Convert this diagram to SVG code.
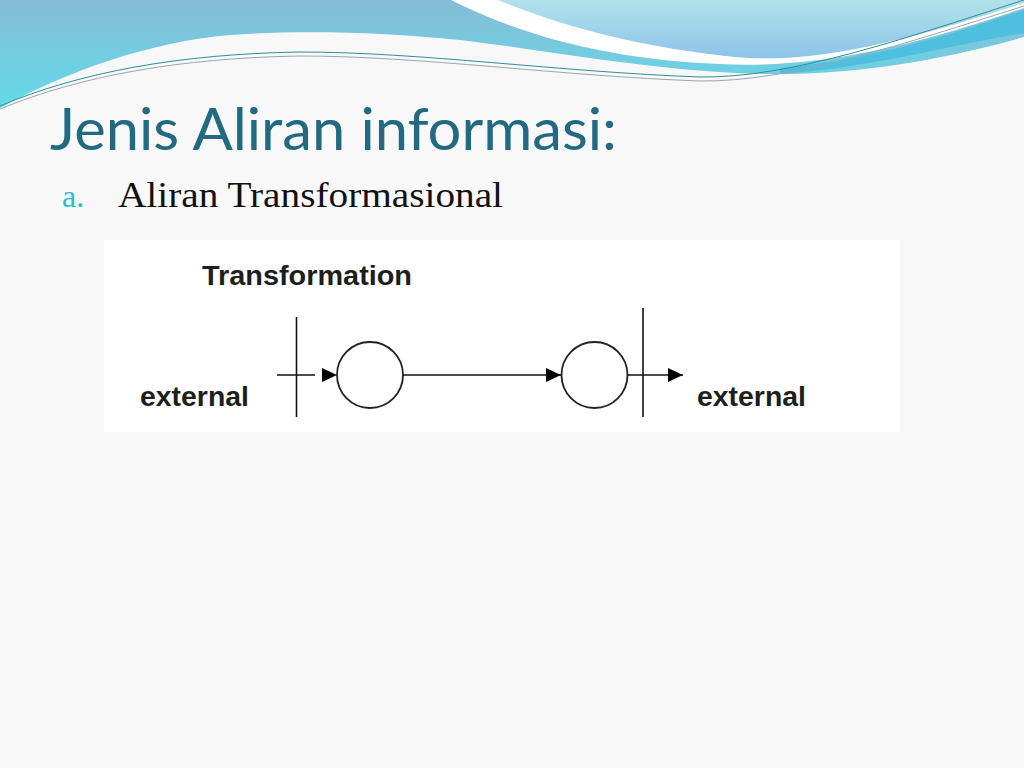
<svg xmlns="http://www.w3.org/2000/svg" width="1024" height="768" viewBox="0 0 1024 768">
  <defs>
    <linearGradient id="gBlue" x1="0" y1="0" x2="0" y2="1">
      <stop offset="0" stop-color="#86bcd6"/>
      <stop offset="1" stop-color="#62dbe9"/>
    </linearGradient>
    <linearGradient id="gLight" x1="0" y1="0" x2="0" y2="1">
      <stop offset="0" stop-color="#b2e3ea"/>
      <stop offset="1" stop-color="#8cc3e8"/>
    </linearGradient>
    <marker id="arr" viewBox="0 0 15 14" refX="15" refY="7" markerWidth="15" markerHeight="14" markerUnits="userSpaceOnUse" orient="auto">
      <path d="M0,0 L15,7 L0,14 Z" fill="#000"/>
    </marker>
    <style>
      .lbl { font-family: "Liberation Sans", Arial, sans-serif; font-weight: bold; font-size: 28px; fill: #1e1e1e; }
      .ln { stroke: #111; stroke-width: 1.6; fill: none; }
      .circ { stroke: #222; stroke-width: 1.8; fill: #fff; }
    </style>
  </defs>

  <!-- background -->
  <rect x="0" y="0" width="1024" height="768" fill="#f8f8f8"/>

  <!-- header waves -->
  <g id="header">
    <path d="M0,0 H1024 V37 C960,55 880,72 790,74 C680,76 560,52 460,40 C380,32 300,30 230,35 C150,42 70,70 0,108 Z" fill="url(#gBlue)"/>
    <path d="M1024,10 C950,35 870,60 780,68 L780,74 C870,68 950,45 1024,33 Z" fill="#4fbfdf"/>
    <path d="M451,0 C530,40 620,60 720,64 C800,68 890,55 1024,8 V0 Z" fill="#ffffff"/>
    <path d="M498,0 C565,28 645,48 735,57 C800,63 880,50 1024,3 V0 Z" fill="url(#gLight)"/>
    <path d="M0,106 C80,72 180,54 300,52 C420,52 560,72 700,77 C790,78 900,40 1024,0" fill="none" stroke="#2e8f9a" stroke-width="1"/>
    <path d="M0,109 C80,76 180,58 300,56 C420,56 560,76 700,81 C790,82 900,45 1024,6" fill="none" stroke="#9aa6ad" stroke-width="1"/>
  </g>

  <!-- title -->
  <text id="title" x="50" y="150" font-family="Lato, 'Open Sans', sans-serif" font-size="58" fill="#216a82" textLength="567" lengthAdjust="spacingAndGlyphs">Jenis Aliran informasi:</text>
  <g id="bullet">
    <text x="62" y="207" font-family="'Liberation Serif', serif" font-size="32" fill="#2cbcd0">a.</text>
    <text x="118" y="207" font-family="'Liberation Serif', serif" font-size="36" fill="#111" textLength="385" lengthAdjust="spacingAndGlyphs">Aliran Transformasional</text>
  </g>

  <!-- diagram panel -->
  <rect id="panel" x="104" y="240" width="796" height="192" fill="#ffffff"/>

  <text id="lbl-transformation" class="lbl" x="202" y="285" textLength="210" lengthAdjust="spacingAndGlyphs">Transformation</text>
  <text id="lbl-external-left" class="lbl" x="140" y="406" textLength="109" lengthAdjust="spacingAndGlyphs">external</text>
  <text id="lbl-external-right" class="lbl" x="697" y="406" textLength="109" lengthAdjust="spacingAndGlyphs">external</text>

  <g id="boundary-left">
    <line class="ln" x1="296.5" y1="317" x2="296.5" y2="417"/>
  </g>
  <g id="boundary-right">
    <line class="ln" x1="643" y1="308" x2="643" y2="417"/>
  </g>
  <g id="process-1">
    <circle class="circ" cx="370" cy="375" r="33"/>
  </g>
  <g id="process-2">
    <circle class="circ" cx="594.5" cy="375" r="33"/>
  </g>

  <g id="connectors">
    <line class="ln" x1="277" y1="375" x2="315" y2="375"/>
    <path d="M322,368 L337,375 L322,382 Z" fill="#000"/>
    <line class="ln" x1="403" y1="375" x2="561" y2="375" marker-end="url(#arr)"/>
    <line class="ln" x1="628" y1="375" x2="683" y2="375" marker-end="url(#arr)"/>
  </g>
</svg>
